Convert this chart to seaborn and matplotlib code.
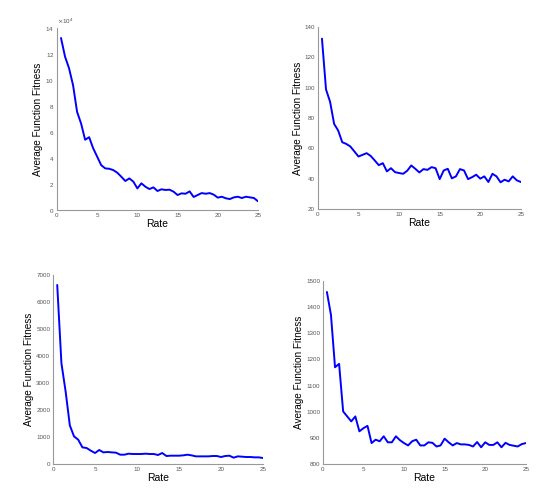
import numpy as np
import pandas as pd
import matplotlib
matplotlib.use("Agg")
import matplotlib.pyplot as plt
import seaborn as sns

rate = [0.5 * i for i in range(1, 51)]

fitness_a = [13.23, 11.8, 10.9, 9.6, 7.55, 6.65, 5.4, 5.6, 4.75, 4.1,
             3.45, 3.2, 3.17, 3.07, 2.87, 2.56, 2.23, 2.43, 2.18, 1.66,
             2.05, 1.79, 1.61, 1.74, 1.46, 1.59, 1.54, 1.56, 1.41, 1.15,
             1.28, 1.25, 1.43, 1.0, 1.15, 1.3, 1.25, 1.3, 1.18, 0.95,
             1.02, 0.9, 0.84, 0.97, 1.02, 0.92, 1.02, 0.97, 0.92, 0.67]
fitness_a = [v * 1e4 for v in fitness_a]

fitness_b = [132.3, 98.8, 90.7, 76.1, 71.7, 64.0, 62.9, 61.2, 57.9, 54.6,
             55.7, 56.8, 55.0, 52.0, 48.9, 50.2, 44.8, 46.9, 44.3, 43.7,
             43.2, 45.2, 48.7, 46.5, 44.1, 46.3, 45.8, 47.6, 46.9, 39.7,
             45.4, 46.5, 40.2, 41.5, 46.3, 45.4, 39.7, 41.0, 42.6, 40.0,
             41.5, 37.8, 43.2, 41.5, 37.6, 39.3, 38.2, 41.5, 38.9, 37.8]

fitness_c = [6630, 3734, 2687, 1430, 1023, 900, 616, 592, 493, 407,
             518, 431, 444, 431, 419, 345, 345, 382, 370, 370,
             370, 382, 370, 370, 333, 407, 296, 308, 308, 308,
             320, 345, 320, 283, 283, 283, 283, 296, 296, 259,
             296, 308, 234, 283, 271, 259, 259, 246, 246, 222]

fitness_d = [1458, 1370, 1170, 1183, 1001, 982, 963, 982, 925, 937,
             946, 880, 893, 887, 906, 883, 883, 906, 891, 880,
             871, 887, 893, 871, 871, 883, 881, 867, 871, 897,
             883, 871, 880, 875, 875, 873, 867, 884, 864, 883,
             873, 873, 883, 864, 881, 873, 870, 867, 876, 880]

x_ticks = [0, 5, 10, 15, 20, 25]
x_label = "Rate"
y_label = "Average Function Fitness"

sns.set_theme(style="white")
plt.rcParams['font.family'] = ['Liberation Sans', 'DejaVu Sans']

fig = plt.figure(figsize=(5.5, 4.97), dpi=100)

specs = [
    (fitness_a, [0.1036, 0.5775, 0.3654, 0.3662], (0, 140000), np.arange(0, 140001, 20000)),
    (fitness_b, [0.578, 0.5795, 0.369, 0.3662], (20, 140), np.arange(20, 141, 20)),
    (fitness_c, [0.0964, 0.0664, 0.3818, 0.3803], (0, 7000), np.arange(0, 7001, 1000)),
    (fitness_d, [0.587, 0.0664, 0.369, 0.3682], (800, 1500), np.arange(800, 1501, 100)),
]

for i, (vals, pos, ylim, yt) in enumerate(specs):
    ax = fig.add_axes(pos)
    df = pd.DataFrame({"rate": rate, "fit": vals})
    sns.lineplot(data=df, x="rate", y="fit", ax=ax, color="#0000ff", linewidth=1.4)
    ax.set_xlim(0, 25)
    ax.set_ylim(*ylim)
    ax.set_xticks(x_ticks)
    ax.set_yticks(yt)
    ax.set_xlabel(x_label, fontsize=7.5, color="black", labelpad=1)
    ax.set_ylabel(y_label, fontsize=7.2, color="black", labelpad=1.5)
    ax.tick_params(axis="both", direction="in", length=2, width=0.5,
                   labelsize=4.5, labelcolor="#555555", color="#666666", pad=2)
    for s in ["top", "right"]:
        ax.spines[s].set_visible(False)
    for s in ["left", "bottom"]:
        ax.spines[s].set_color("#999999")
        ax.spines[s].set_linewidth(0.8)
    if i == 0:
        ax.ticklabel_format(axis="y", style="sci", scilimits=(4, 4), useMathText=True)
        ax.yaxis.get_offset_text().set_fontsize(4.5)
        ax.yaxis.get_offset_text().set_color("#555555")

fig.savefig("out.png", dpi=100, facecolor="white")
